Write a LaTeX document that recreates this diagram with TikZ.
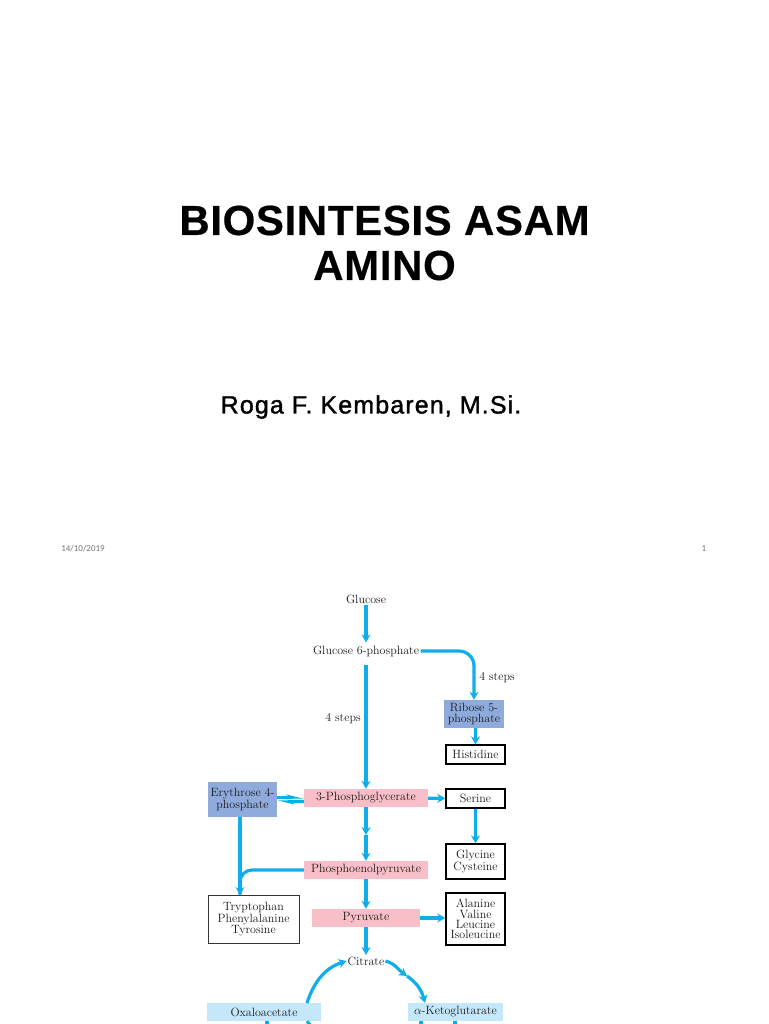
\documentclass[tikz,border=0pt]{standalone}
\usepackage{fontspec}
\usetikzlibrary{arrows.meta}
\usetikzlibrary{positioning}
\newfontfamily\titlefont[FakeBold=0.4,LetterSpace=1.5]{Liberation Sans Bold}
\newfontfamily\authfont[FakeBold=1.4,LetterSpace=4.5]{Liberation Sans}
\newfontfamily\footfont{Carlito}
\definecolor{flowblue}{HTML}{0FAEEA}
\definecolor{pinkbox}{HTML}{F9BFC9}
\definecolor{bluebox}{HTML}{8FABDC}
\definecolor{skybox}{HTML}{C4E8FA}
\begin{document}
\begin{tikzpicture}[x=1pt,y=-1pt,
	flow/.style={draw=flowblue,line width=3.2pt,-{Stealth[length=8pt,width=9pt]}},
	plain/.style={draw=flowblue,line width=3.2pt},
	harp/.style={draw=flowblue,line width=2.2pt,-{Stealth[harpoon,length=13pt,width=6pt]}},
	lab/.style={font=\fontsize{12}{10.3}\selectfont\addfontfeatures{FakeBold=1},text=black!90,align=center,inner sep=1.5pt},
	pinkb/.style={lab,fill=pinkbox,minimum height=18pt,inner sep=0pt},
	blueb/.style={lab,fill=bluebox,inner sep=0pt},
	skyb/.style={lab,fill=skybox,minimum height=18pt,inner sep=0pt},
	amino/.style={lab,draw=black,line width=1.4pt,inner sep=0pt}]
	\useasboundingbox (0,0) rectangle (768,1024);
	\clip (0,0) rectangle (768,1024);
	\node [font=\titlefont\fontsize{42}{45}\selectfont,align=center] (title) at (384.5,243) {BIOSINTESIS ASAM\\AMINO};
	\node [font=\authfont\fontsize{25}{28}\selectfont] (auth) at (371,407) {Roga F. Kembaren, M.Si.};
	\node [font=\footfont\fontsize{9}{10}\selectfont,text=black!55] (date) at (83,548.5) {14/10/2019};
	\node [font=\footfont\fontsize{9}{10}\selectfont,text=black!55] (page) at (704,548.5) {1};
	\node [lab] (glc) at (366,599) {Glucose};
	\node [lab,inner ysep=3pt] (g6p) at (366,651) {Glucose 6-phosphate};
	\node [lab] (st1) at (343,719) {4 steps};
	\node [lab] (st2) at (497,678) {4 steps};
	\node [blueb,minimum width=60pt,minimum height=28pt] (r5p) at (474,714) {Ribose 5-\\phosphate};
	\node [amino,minimum width=59pt,minimum height=19pt] (his) at (475.5,754.5) {Histidine};
	\node [blueb,minimum width=69pt,minimum height=35pt] (e4p) at (242.5,799.5) {Erythrose 4-\\phosphate};
	\node [pinkb,minimum width=124pt] (pg3) at (366,798) {3-Phosphoglycerate};
	\node [amino,minimum width=59pt,minimum height=19pt] (ser) at (475.5,798.5) {Serine};
	\node [amino,minimum width=59pt,minimum height=35pt] (gly) at (475.5,861.5) {Glycine\\Cysteine};
	\node [pinkb,minimum width=124pt] (pep) at (366,870) {Phosphoenolpyruvate};
	\node [lab,draw=black!80,line width=0.9pt,inner sep=0pt,minimum width=91pt,minimum height=48pt] (trp) at (253.5,919) {Tryptophan\\Phenylalanine\\Tyrosine};
	\node [pinkb,minimum width=108pt] (pyr) at (366,918) {Pyruvate};
	\node [amino,minimum width=59pt,minimum height=52pt] (ala) at (475.5,919) {Alanine\\Valine\\Leucine\\Isoleucine};
	\node [lab,inner xsep=1pt] (cit) at (366,961) {Citrate};
	\node [skyb,minimum width=114pt] (oaa) at (264,1012) {Oxaloacetate};
	\node [skyb,minimum width=95pt] (akg) at (455.5,1012) {$\alpha$-Ketoglutarate};
	\coordinate (m1) at (366,835);
	\coordinate (m2) at (407,976);
	\coordinate (j1) at (240,895);
	\coordinate (s1) at (307,1003);
	\coordinate (s2) at (425,1003);
	\coordinate (e1) at (267,1026);
	\coordinate (e2) at (311,1026);
	\coordinate (e3) at (421,1026);
	\coordinate (e4) at (455,1026);
	\draw [flow] (glc) -- (g6p);
	\draw [flow] ([yshift=-5pt]g6p.south) -- (pg3);
	\draw [flow,rounded corners=15pt] (g6p.east) -| (r5p.north);
	\draw [flow] (r5p.south -| his) -- (his);
	\draw [harp] ([yshift=2pt]e4p.east) -- ([yshift=0.5pt]pg3.west);
	\draw [harp] ([yshift=-3.5pt]pg3.west) -- ([yshift=-2pt]e4p.east);
	\draw [flow] (pg3) -- (ser);
	\draw [flow] (ser) -- (gly);
	\draw [flow] (pg3) -- (m1);
	\draw [flow] (m1) -- (pep);
	\draw [flow] (e4p.south -| j1) -- (j1);
	\draw [plain,rounded corners=12pt] (pep.west) -| (j1);
	\draw [flow] (pep) -- (pyr);
	\draw [flow] (pyr.east) -- (pyr.east -| ala.west);
	\draw [flow] (pyr) -- (cit);
	\draw [flow] (s1) to [out=72,in=198] (cit.west);
	\draw [flow] (cit.east) to [out=-15,in=145] (m2);
	\draw [flow] (m2) to [out=-35,in=105] (s2);
	\draw [plain] (oaa.south -| e1) -- (e1);
	\draw [plain] (oaa.south -| s1) -- (e2);
	\draw [plain] (akg.south -| e3) -- (e3);
	\draw [plain] (akg.south -| e4) -- (e4);
\end{tikzpicture}
\end{document}
